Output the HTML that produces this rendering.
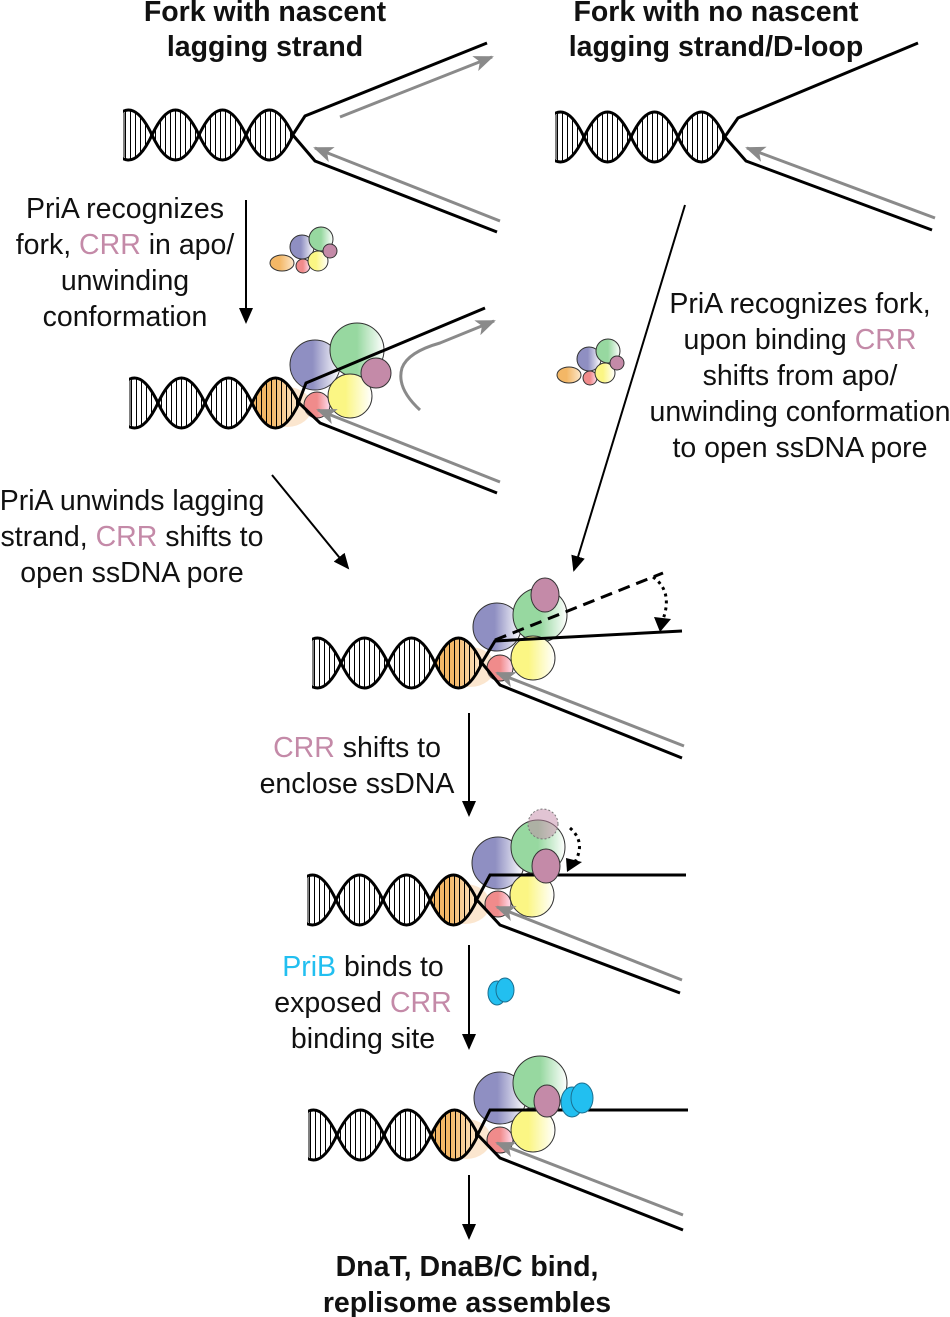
<!DOCTYPE html>
<html><head><meta charset="utf-8"><style>
html,body{margin:0;padding:0;background:#fff}
svg{display:block}
text{font-family:"Liberation Sans",Arial,sans-serif;font-size:28.5px;fill:#111}
.b{font-weight:bold}
.c{fill:#c48aa8}
.p{fill:#22bff0}
</style></head><body>
<svg width="950" height="1317" viewBox="0 0 950 1317" xmlns="http://www.w3.org/2000/svg">
<defs>
<pattern id="hatch" patternUnits="userSpaceOnUse" width="5" height="10"><line x1="2.5" y1="0" x2="2.5" y2="10" stroke="#000" stroke-width="1"/></pattern>
<clipPath id="hc" clipPathUnits="userSpaceOnUse"><rect x="-170" y="-40" width="200" height="80"/></clipPath>
<clipPath id="lastEye"><path d="M-47,0 Q-23.5,-50 0,0 Q-23.5,50 -47,0Z"/></clipPath>
<linearGradient id="gPu" x1="0" x2="1" y1="0" y2="0"><stop offset="0.45" stop-color="#8f8fc2"/><stop offset="1" stop-color="#fff"/></linearGradient>
<linearGradient id="gGr" x1="0" x2="1" y1="0" y2="0"><stop offset="0.5" stop-color="#97d8a0"/><stop offset="1" stop-color="#fff"/></linearGradient>
<linearGradient id="gYe" x1="0" x2="1" y1="0" y2="0"><stop offset="0.4" stop-color="#fbf684"/><stop offset="1" stop-color="#fff"/></linearGradient>
<linearGradient id="gRe" x1="0" x2="1" y1="0" y2="0"><stop offset="0.5" stop-color="#f08b8b"/><stop offset="1" stop-color="#fde"/></linearGradient>
<linearGradient id="gOr" x1="0" x2="1" y1="0" y2="0"><stop offset="0.4" stop-color="#f3b766"/><stop offset="1" stop-color="#fde8cc"/></linearGradient>
<marker id="ag" markerUnits="userSpaceOnUse" markerWidth="22" markerHeight="16" refX="18" refY="8" orient="auto"><path d="M0,0 L20,8 L0,16 L5,8Z" fill="#8a8a8a"/></marker>
<marker id="ab" markerUnits="userSpaceOnUse" markerWidth="16" markerHeight="14" refX="14" refY="7" orient="auto"><path d="M0,0 L16,7 L0,14Z" fill="#000"/></marker>
<g id="hx">
 <path d="M-235,0 Q-211.5,-50 -188,0 Q-211.5,50 -235,0Z M-188,0 Q-164.5,-50 -141,0 Q-164.5,50 -188,0Z M-141,0 Q-117.5,-50 -94,0 Q-117.5,50 -141,0Z M-94,0 Q-70.5,-50 -47,0 Q-70.5,50 -94,0Z M-47,0 Q-23.5,-50 0,0 Q-23.5,50 -47,0Z" fill="url(#hatch)"/>
 <path d="M-235,0 Q-211.5,-50 -188,0 T-141,0 T-94,0 T-47,0 T0,0" fill="none" stroke="#000" stroke-width="3"/>
 <path d="M-235,0 Q-211.5,50 -188,0 T-141,0 T-94,0 T-47,0 T0,0" fill="none" stroke="#000" stroke-width="3"/>
 <line x1="-169" y1="-22" x2="-169" y2="22" stroke="#000" stroke-width="1"/>
</g>
<g id="hxo">
 <ellipse cx="-12" cy="4" rx="25" ry="20" fill="#fbe6cf"/>
 <rect x="-47" y="-30" width="47" height="60" fill="url(#gOr)" clip-path="url(#lastEye)"/>
 <use href="#hx"/>
</g>
<g id="small">
 <ellipse cx="282" cy="263" rx="12" ry="8" fill="url(#gOr)" stroke="#333" stroke-width="1"/>
 <circle cx="303" cy="266" r="7" fill="url(#gRe)" stroke="#333" stroke-width="1"/>
 <circle cx="302" cy="247" r="12" fill="url(#gPu)" stroke="#333" stroke-width="1"/>
 <circle cx="318" cy="261" r="10" fill="url(#gYe)" stroke="#333" stroke-width="1"/>
 <circle cx="321" cy="239" r="12" fill="url(#gGr)" stroke="#333" stroke-width="1"/>
 <circle cx="330" cy="251" r="7" fill="#c48aa8" stroke="#333" stroke-width="1"/>
</g>
</defs>

<text class="b" x="265" y="21" text-anchor="middle">Fork with nascent</text>
<text class="b" x="265" y="56" text-anchor="middle">lagging strand</text>
<text class="b" x="716" y="21" text-anchor="middle">Fork with no nascent</text>
<text class="b" x="716" y="56" text-anchor="middle">lagging strand/D-loop</text>

<use href="#hx" x="293" y="135" clip-path="url(#hc)"/>
<path d="M292,136 L305,116 L487,43" fill="none" stroke="#000" stroke-width="3"/>
<path d="M292,134 L315,161 L497,232" fill="none" stroke="#000" stroke-width="3"/>
<line x1="340" y1="117" x2="492" y2="57" stroke="#8a8a8a" stroke-width="3" marker-end="url(#ag)"/>
<line x1="500" y1="221" x2="315" y2="148" stroke="#8a8a8a" stroke-width="3" marker-end="url(#ag)"/>

<g transform="translate(725,137)"><use href="#hx" clip-path="url(#hc)"/></g>
<path d="M724,138 L738,118 L918,43" fill="none" stroke="#000" stroke-width="3"/>
<path d="M724,136 L746,161 L932,230" fill="none" stroke="#000" stroke-width="3"/>
<line x1="935" y1="218" x2="747" y2="148" stroke="#8a8a8a" stroke-width="3" marker-end="url(#ag)"/>

<text x="125" y="218" text-anchor="middle">PriA recognizes</text>
<text x="125" y="254" text-anchor="middle">fork, <tspan class="c">CRR</tspan> in apo/</text>
<text x="125" y="290" text-anchor="middle">unwinding</text>
<text x="125" y="326" text-anchor="middle">conformation</text>
<line x1="246" y1="200" x2="246" y2="322" stroke="#000" stroke-width="2" marker-end="url(#ab)"/>
<use href="#small"/>
<use href="#small" transform="translate(287,112)"/>

<g transform="translate(299,403)"><use href="#hxo" clip-path="url(#hc)"/></g>
<circle cx="315" cy="365" r="25" fill="url(#gPu)" stroke="#333" stroke-width="1"/>
<circle cx="357" cy="350" r="27" fill="url(#gGr)" stroke="#333" stroke-width="1"/>
<circle cx="317" cy="405" r="13" fill="url(#gRe)" stroke="#333" stroke-width="1"/>
<circle cx="350" cy="396" r="22" fill="url(#gYe)" stroke="#333" stroke-width="1"/>
<circle cx="376" cy="373" r="15" fill="#c48aa8" stroke="#333" stroke-width="1"/>
<path d="M298,404 L306,383 L485,308" fill="none" stroke="#000" stroke-width="3"/>
<path d="M298,402 L320,423 L497,493" fill="none" stroke="#000" stroke-width="3"/>
<path d="M420,410 Q396,388 402,368 Q408,352 440,343 L494,321" fill="none" stroke="#8a8a8a" stroke-width="3" marker-end="url(#ag)"/>
<line x1="500" y1="482" x2="318" y2="410" stroke="#8a8a8a" stroke-width="3" marker-end="url(#ag)"/>

<text x="800" y="313" text-anchor="middle">PriA recognizes fork,</text>
<text x="800" y="349" text-anchor="middle">upon binding <tspan class="c">CRR</tspan></text>
<text x="800" y="385" text-anchor="middle">shifts from apo/</text>
<text x="800" y="421" text-anchor="middle">unwinding conformation</text>
<text x="800" y="457" text-anchor="middle">to open ssDNA pore</text>
<line x1="685" y1="205" x2="574" y2="570" stroke="#000" stroke-width="2" marker-end="url(#ab)"/>

<text x="132" y="510" text-anchor="middle">PriA unwinds lagging</text>
<text x="132" y="546" text-anchor="middle">strand, <tspan class="c">CRR</tspan> shifts to</text>
<text x="132" y="582" text-anchor="middle">open ssDNA pore</text>
<line x1="272" y1="475" x2="348" y2="568" stroke="#000" stroke-width="2" marker-end="url(#ab)"/>

<g transform="translate(482,663)"><use href="#hxo" clip-path="url(#hc)"/></g>
<circle cx="497" cy="627" r="24" fill="url(#gPu)" stroke="#333" stroke-width="1"/>
<circle cx="540" cy="615" r="27" fill="url(#gGr)" stroke="#333" stroke-width="1"/>
<ellipse cx="545" cy="595" rx="14" ry="17" fill="#c48aa8" stroke="#333" stroke-width="1"/>
<circle cx="500" cy="668" r="13" fill="url(#gRe)" stroke="#333" stroke-width="1"/>
<circle cx="533" cy="658" r="22" fill="url(#gYe)" stroke="#333" stroke-width="1"/>
<path d="M481,664 L495,641 L682,631" fill="none" stroke="#000" stroke-width="3"/>
<path d="M481,662 L500,685 L682,758" fill="none" stroke="#000" stroke-width="3"/>
<line x1="495" y1="640" x2="663" y2="573" stroke="#000" stroke-width="3" stroke-dasharray="12,7"/>
<path d="M653,577 Q674,592 662,622" fill="none" stroke="#000" stroke-width="3" stroke-dasharray="3,4"/>
<path d="M654,617 L671,619 L660,632Z" fill="#000"/>
<line x1="684" y1="746" x2="497" y2="673" stroke="#8a8a8a" stroke-width="3" marker-end="url(#ag)"/>

<text x="357" y="757" text-anchor="middle"><tspan class="c">CRR</tspan> shifts to</text>
<text x="357" y="793" text-anchor="middle">enclose ssDNA</text>
<line x1="469" y1="713" x2="469" y2="815" stroke="#000" stroke-width="2" marker-end="url(#ab)"/>

<g transform="translate(477,900)"><use href="#hxo" clip-path="url(#hc)"/></g>
<circle cx="498" cy="863" r="26" fill="url(#gPu)" stroke="#333" stroke-width="1"/>
<circle cx="538" cy="847" r="27" fill="url(#gGr)" stroke="#333" stroke-width="1"/>
<circle cx="543" cy="824" r="15" fill="#c48aa8" fill-opacity="0.5" stroke="#777" stroke-width="1" stroke-dasharray="2,2"/>
<circle cx="498" cy="904" r="13" fill="url(#gRe)" stroke="#333" stroke-width="1"/>
<circle cx="532" cy="895" r="22" fill="url(#gYe)" stroke="#333" stroke-width="1"/>
<path d="M476,901 L490,875 L686,875" fill="none" stroke="#000" stroke-width="3"/>
<ellipse cx="546" cy="866" rx="14" ry="17" fill="#c48aa8" stroke="#333" stroke-width="1"/>
<path d="M476,899 L500,925 L680,993" fill="none" stroke="#000" stroke-width="3"/>
<path d="M570,828 Q586,842 575,862" fill="none" stroke="#000" stroke-width="3" stroke-dasharray="3,4"/>
<path d="M566,858 L582,862 L567,872Z" fill="#000"/>
<line x1="682" y1="980" x2="497" y2="907" stroke="#8a8a8a" stroke-width="3" marker-end="url(#ag)"/>

<text x="363" y="976" text-anchor="middle"><tspan class="p">PriB</tspan> binds to</text>
<text x="363" y="1012" text-anchor="middle">exposed <tspan class="c">CRR</tspan></text>
<text x="363" y="1048" text-anchor="middle">binding site</text>
<line x1="469" y1="945" x2="469" y2="1048" stroke="#000" stroke-width="2" marker-end="url(#ab)"/>
<ellipse cx="497" cy="993" rx="9" ry="12" fill="#22bff0" stroke="#1a6f90" stroke-width="1"/>
<ellipse cx="505" cy="990" rx="9" ry="12" fill="#22bff0" stroke="#1a6f90" stroke-width="1"/>

<g transform="translate(478,1135)"><use href="#hxo" clip-path="url(#hc)"/></g>
<circle cx="500" cy="1098" r="26" fill="url(#gPu)" stroke="#333" stroke-width="1"/>
<circle cx="540" cy="1083" r="27" fill="url(#gGr)" stroke="#333" stroke-width="1"/>
<circle cx="500" cy="1140" r="13" fill="url(#gRe)" stroke="#333" stroke-width="1"/>
<circle cx="533" cy="1130" r="22" fill="url(#gYe)" stroke="#333" stroke-width="1"/>
<path d="M477,1136 L490,1110 L688,1110" fill="none" stroke="#000" stroke-width="3"/>
<ellipse cx="547" cy="1101" rx="13" ry="16" fill="#c48aa8" stroke="#333" stroke-width="1"/>
<ellipse cx="572" cy="1102" rx="11" ry="15" fill="#22bff0" stroke="#1a6f90" stroke-width="1"/>
<ellipse cx="582" cy="1098" rx="11" ry="15" fill="#22bff0" stroke="#1a6f90" stroke-width="1"/>
<path d="M477,1134 L500,1158 L683,1230" fill="none" stroke="#000" stroke-width="3"/>
<line x1="683" y1="1215" x2="497" y2="1143" stroke="#8a8a8a" stroke-width="3" marker-end="url(#ag)"/>
<line x1="469" y1="1175" x2="469" y2="1238" stroke="#000" stroke-width="2" marker-end="url(#ab)"/>

<text class="b" x="467" y="1276" text-anchor="middle">DnaT, DnaB/C bind,</text>
<text class="b" x="467" y="1312" text-anchor="middle">replisome assembles</text>
</svg>
</body></html>
